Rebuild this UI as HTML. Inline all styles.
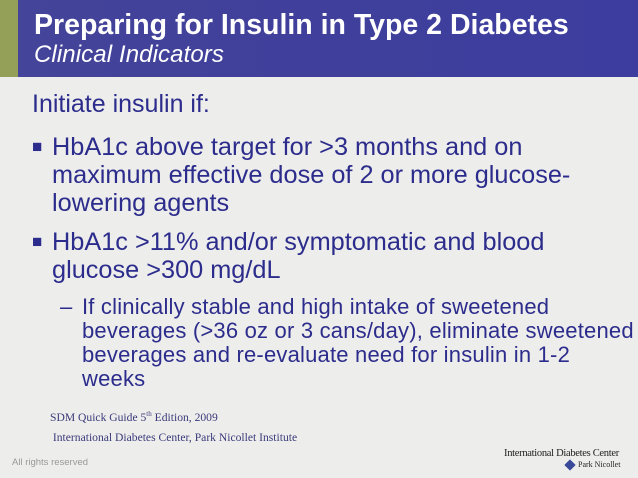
<!DOCTYPE html>
<html><head><meta charset="utf-8"><style>
body{margin:0;width:638px;height:478px;overflow:hidden;background:#ededec;font-family:"Liberation Sans",sans-serif;position:relative}
.a{position:absolute;white-space:nowrap}
.b{color:#2c2c8c}
</style></head><body>
<div class="a" style="left:0;top:0;width:638px;height:77px;background:linear-gradient(90deg,#44449a,#3f3f9c 60%,#3d3da0)"></div>
<div class="a" style="left:0;top:0;width:18px;height:77px;background:#94a058"></div>
<div class="a" style="left:34px;top:9px;font-size:28.5px;font-weight:bold;color:#fff;letter-spacing:0px">Preparing for Insulin in Type 2 Diabetes</div>
<div class="a" style="left:34px;top:41px;font-size:24px;font-style:italic;color:#fff;letter-spacing:0.1px">Clinical Indicators</div>
<div class="a b" style="left:32px;top:90px;font-size:25px">Initiate insulin if:</div>
<div class="a b" style="left:32px;top:133px;font-size:25.3px;line-height:28px">
<span style="position:absolute;left:0;top:0;font-size:17px">■</span>
<div style="margin-left:20px">HbA1c above target for &gt;3 months and on<br>maximum effective dose of 2 or more glucose-<br>lowering agents</div></div>
<div class="a b" style="left:32px;top:228px;font-size:25.3px;line-height:28px">
<span style="position:absolute;left:0;top:0;font-size:17px">■</span>
<div style="margin-left:20px">HbA1c &gt;11% and/or symptomatic and blood<br>glucose &gt;300 mg/dL</div></div>
<div class="a b" style="left:60px;top:295px;font-size:22px;line-height:24px">
<span style="position:absolute;left:0;top:0">–</span>
<div style="margin-left:22px;letter-spacing:0.2px">If clinically stable and high intake of sweetened<br>beverages (&gt;36 oz or 3 cans/day), eliminate sweetened<br>beverages and re-evaluate need for insulin in 1-2<br>weeks</div></div>
<div class="a" style="left:50px;top:404px;font-family:'Liberation Serif',serif;font-size:11.6px;line-height:20px;color:#3a3a7a">SDM Quick Guide 5<sup style="font-size:7px">th</sup> Edition, 2009<br>&nbsp;International Diabetes Center, Park Nicollet Institute</div>
<div class="a" style="left:12px;top:457px;font-size:9.5px;color:#999">All rights reserved</div>
<div class="a" style="left:504px;top:448px;font-family:'Liberation Serif',serif;font-size:10.5px;color:#222;letter-spacing:-0.3px">International Diabetes Center</div>
<div class="a" style="left:566px;top:461px;width:8px;height:8px;background:#3a4a9a;transform:rotate(45deg)"></div>
<div class="a" style="left:578px;top:460px;font-family:'Liberation Serif',serif;font-size:8px;color:#222">Park Nicollet</div>
</body></html>
